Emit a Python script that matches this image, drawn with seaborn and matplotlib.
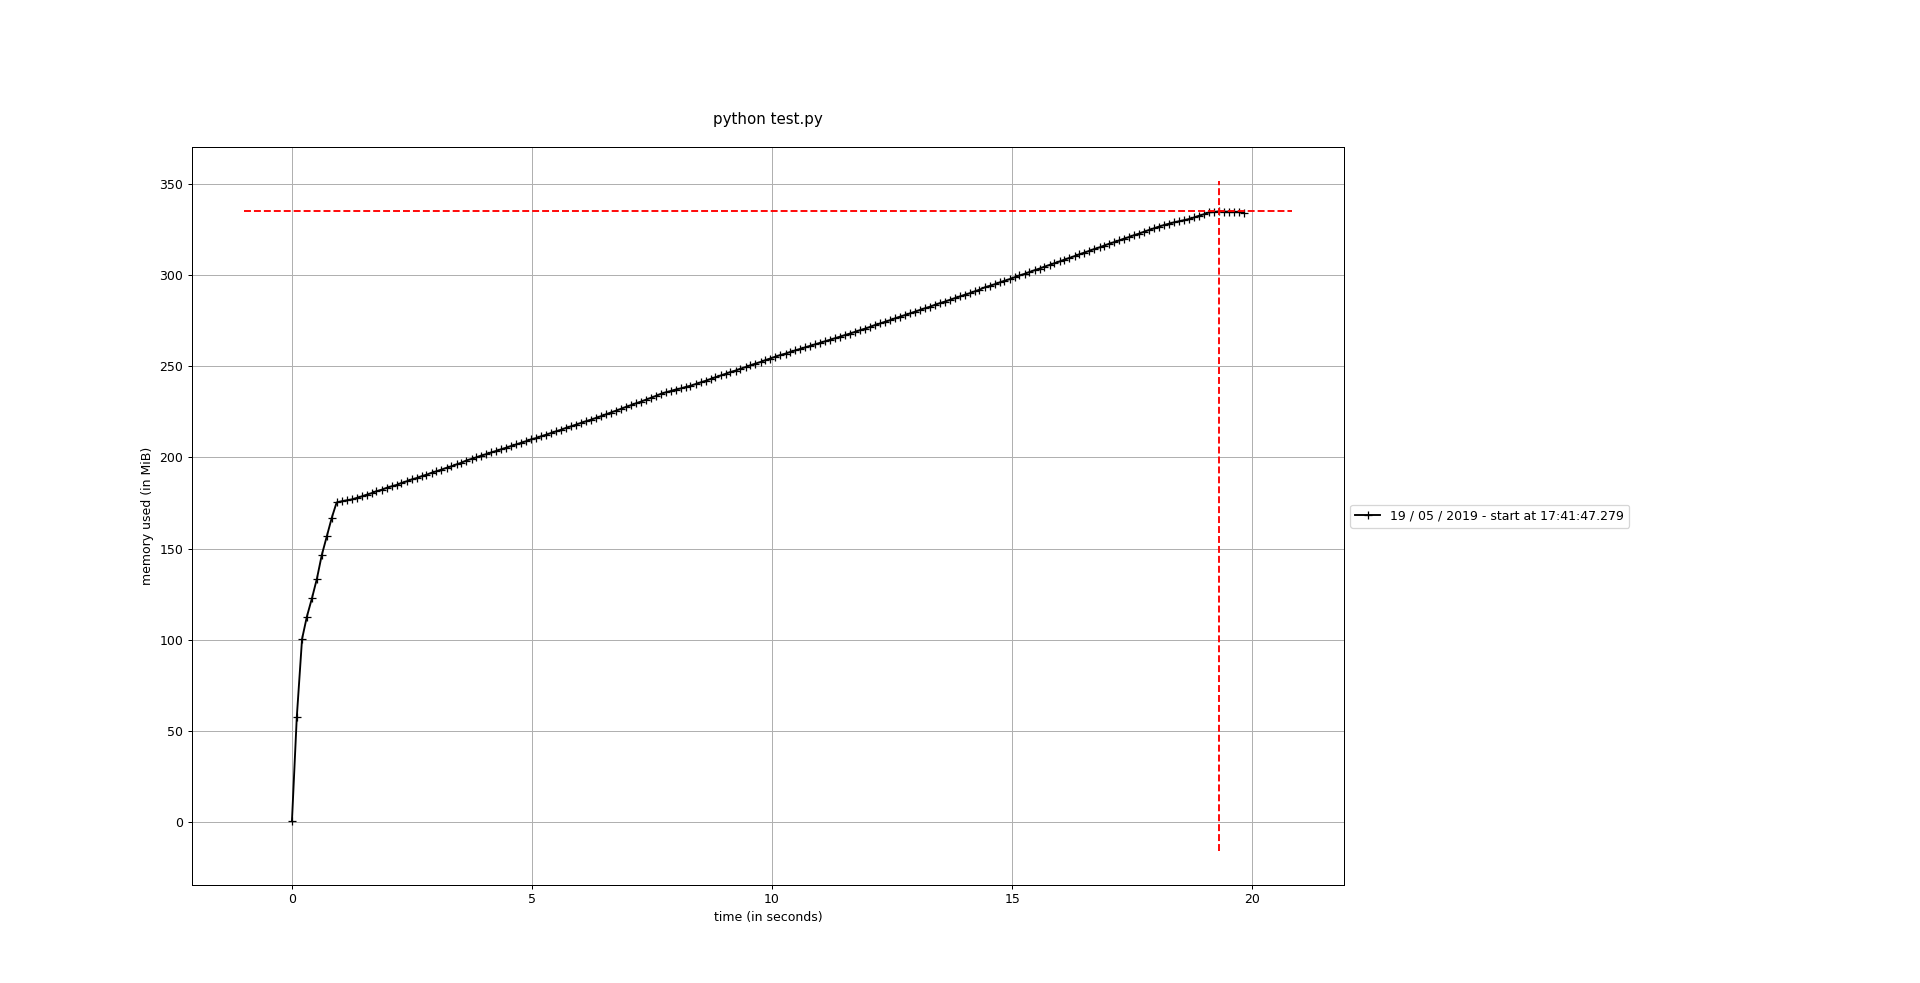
import matplotlib
matplotlib.use("Agg")
import matplotlib.pyplot as plt
import seaborn as sns
import numpy as np

# mprof sample: time (s) and memory (MiB)
times = [
    0.00, 0.10, 0.21, 0.31, 0.42, 0.52, 0.62, 0.73, 0.83, 0.93,
    1.04, 1.14, 1.25, 1.35, 1.45, 1.56, 1.66, 1.76, 1.87, 1.97,
    2.08, 2.18, 2.28, 2.39, 2.49, 2.60, 2.70, 2.80, 2.91, 3.01,
    3.11, 3.22, 3.32, 3.43, 3.53, 3.63, 3.74, 3.84, 3.94, 4.05,
    4.15, 4.26, 4.36, 4.46, 4.57, 4.67, 4.77, 4.88, 4.98, 5.09,
    5.19, 5.29, 5.40, 5.50, 5.61, 5.71, 5.81, 5.92, 6.02, 6.12,
    6.23, 6.33, 6.44, 6.54, 6.64, 6.75, 6.85, 6.95, 7.06, 7.16,
    7.27, 7.37, 7.47, 7.58, 7.68, 7.79, 7.89, 7.99, 8.10, 8.20,
    8.30, 8.41, 8.51, 8.62, 8.72, 8.82, 8.93, 9.03, 9.13, 9.24,
    9.34, 9.45, 9.55, 9.65, 9.76, 9.86, 9.96, 10.07, 10.17, 10.28,
    10.38, 10.48, 10.59, 10.69, 10.80, 10.90, 11.00, 11.11, 11.21, 11.31,
    11.42, 11.52, 11.63, 11.73, 11.83, 11.94, 12.04, 12.14, 12.25, 12.35,
    12.46, 12.56, 12.66, 12.77, 12.87, 12.98, 13.08, 13.18, 13.29, 13.39,
    13.49, 13.60, 13.70, 13.81, 13.91, 14.01, 14.12, 14.22, 14.32, 14.43,
    14.53, 14.64, 14.74, 14.84, 14.95, 15.05, 15.15, 15.26, 15.36, 15.47,
    15.57, 15.67, 15.78, 15.88, 15.99, 16.09, 16.19, 16.30, 16.40, 16.50,
    16.61, 16.71, 16.82, 16.92, 17.02, 17.13, 17.23, 17.33, 17.44, 17.54,
    17.65, 17.75, 17.85, 17.96, 18.06, 18.17, 18.27, 18.37, 18.48, 18.58,
    18.68, 18.79, 18.89, 19.00, 19.10, 19.20, 19.31, 19.41, 19.51, 19.62,
    19.72, 19.83,
]
mem = [
    0.9, 57.5, 100.5, 112.7, 123.2, 133.6, 146.4, 157.1, 167.0, 175.3,
    176.0, 176.5, 177.0, 177.8, 178.6, 179.6, 180.4, 181.5, 182.3, 183.3,
    184.2, 184.9, 186.0, 186.9, 187.9, 188.7, 189.7, 190.5, 191.6, 192.4,
    193.3, 194.3, 195.1, 196.2, 197.1, 198.3, 199.2, 200.0, 201.0, 201.8,
    202.7, 203.6, 204.5, 205.3, 206.3, 207.1, 208.0, 208.9, 209.9, 210.6,
    211.6, 212.4, 213.4, 214.3, 215.2, 216.2, 217.0, 218.0, 218.9, 219.8,
    220.7, 221.6, 222.6, 223.6, 224.6, 225.6, 226.6, 227.6, 228.6, 229.6,
    230.6, 231.6, 232.6, 233.7, 234.8, 235.7, 236.4, 237.2, 237.8, 238.6,
    239.3, 240.2, 241.1, 242.0, 243.0, 243.9, 244.9, 245.8, 246.8, 247.6,
    248.6, 249.5, 250.5, 251.4, 252.3, 253.3, 254.2, 255.2, 256.1, 256.9,
    257.8, 258.6, 259.5, 260.3, 261.2, 262.0, 262.8, 263.6, 264.5, 265.3,
    266.2, 267.0, 267.9, 268.8, 269.7, 270.6, 271.5, 272.5, 273.4, 274.3,
    275.2, 276.2, 277.1, 278.0, 278.9, 279.9, 280.8, 281.7, 282.6, 283.6,
    284.5, 285.4, 286.3, 287.3, 288.2, 289.1, 290.0, 291.0, 291.9, 293.2,
    294.0, 294.9, 295.9, 296.8, 297.7, 298.7, 299.7, 300.6, 301.6, 302.6,
    303.5, 304.5, 305.5, 306.4, 307.4, 308.4, 309.3, 310.3, 311.3, 312.2,
    313.2, 314.2, 315.1, 316.1, 317.1, 318.0, 318.9, 319.9, 320.8, 321.8,
    322.7, 323.7, 324.6, 325.6, 326.5, 327.4, 328.1, 328.8, 329.4, 330.0,
    330.6, 331.5, 332.4, 333.3, 334.3, 334.5, 334.8, 334.7, 334.7, 334.6,
    334.6, 334.1,
]
run_label = "19 / 05 / 2019 - start at 17:41:47.279"
title = "python test.py"

# 1920x983 px at 90 dpi
fig = plt.figure(figsize=(1920 / 90, 983 / 90), dpi=90)
ax = fig.add_axes([0.1, 0.1, 0.6, 0.75])

sns.lineplot(x=times, y=mem, ax=ax, color="black", marker="+",
             markeredgecolor="black", markeredgewidth=1.0, markersize=7,
             linewidth=1.5, label=run_label, sort=False)

# max memory markers, like mprof does
max_mem = max(mem)
max_t = times[int(np.argmax(mem))]
x0, x1 = ax.get_xlim()
ax.hlines(max_mem, x0, x1, colors="r", linestyles="--")
y0, y1 = ax.get_ylim()
ax.vlines(max_t, y0, y1, colors="r", linestyles="--")

ax.grid(True)
ax.set_xlabel("time (in seconds)")
ax.set_ylabel("memory used (in MiB)")
ax.set_title(title, pad=19)
ax.legend(loc="center left", bbox_to_anchor=(1, 0.5))

fig.savefig("out.png", dpi=90)
